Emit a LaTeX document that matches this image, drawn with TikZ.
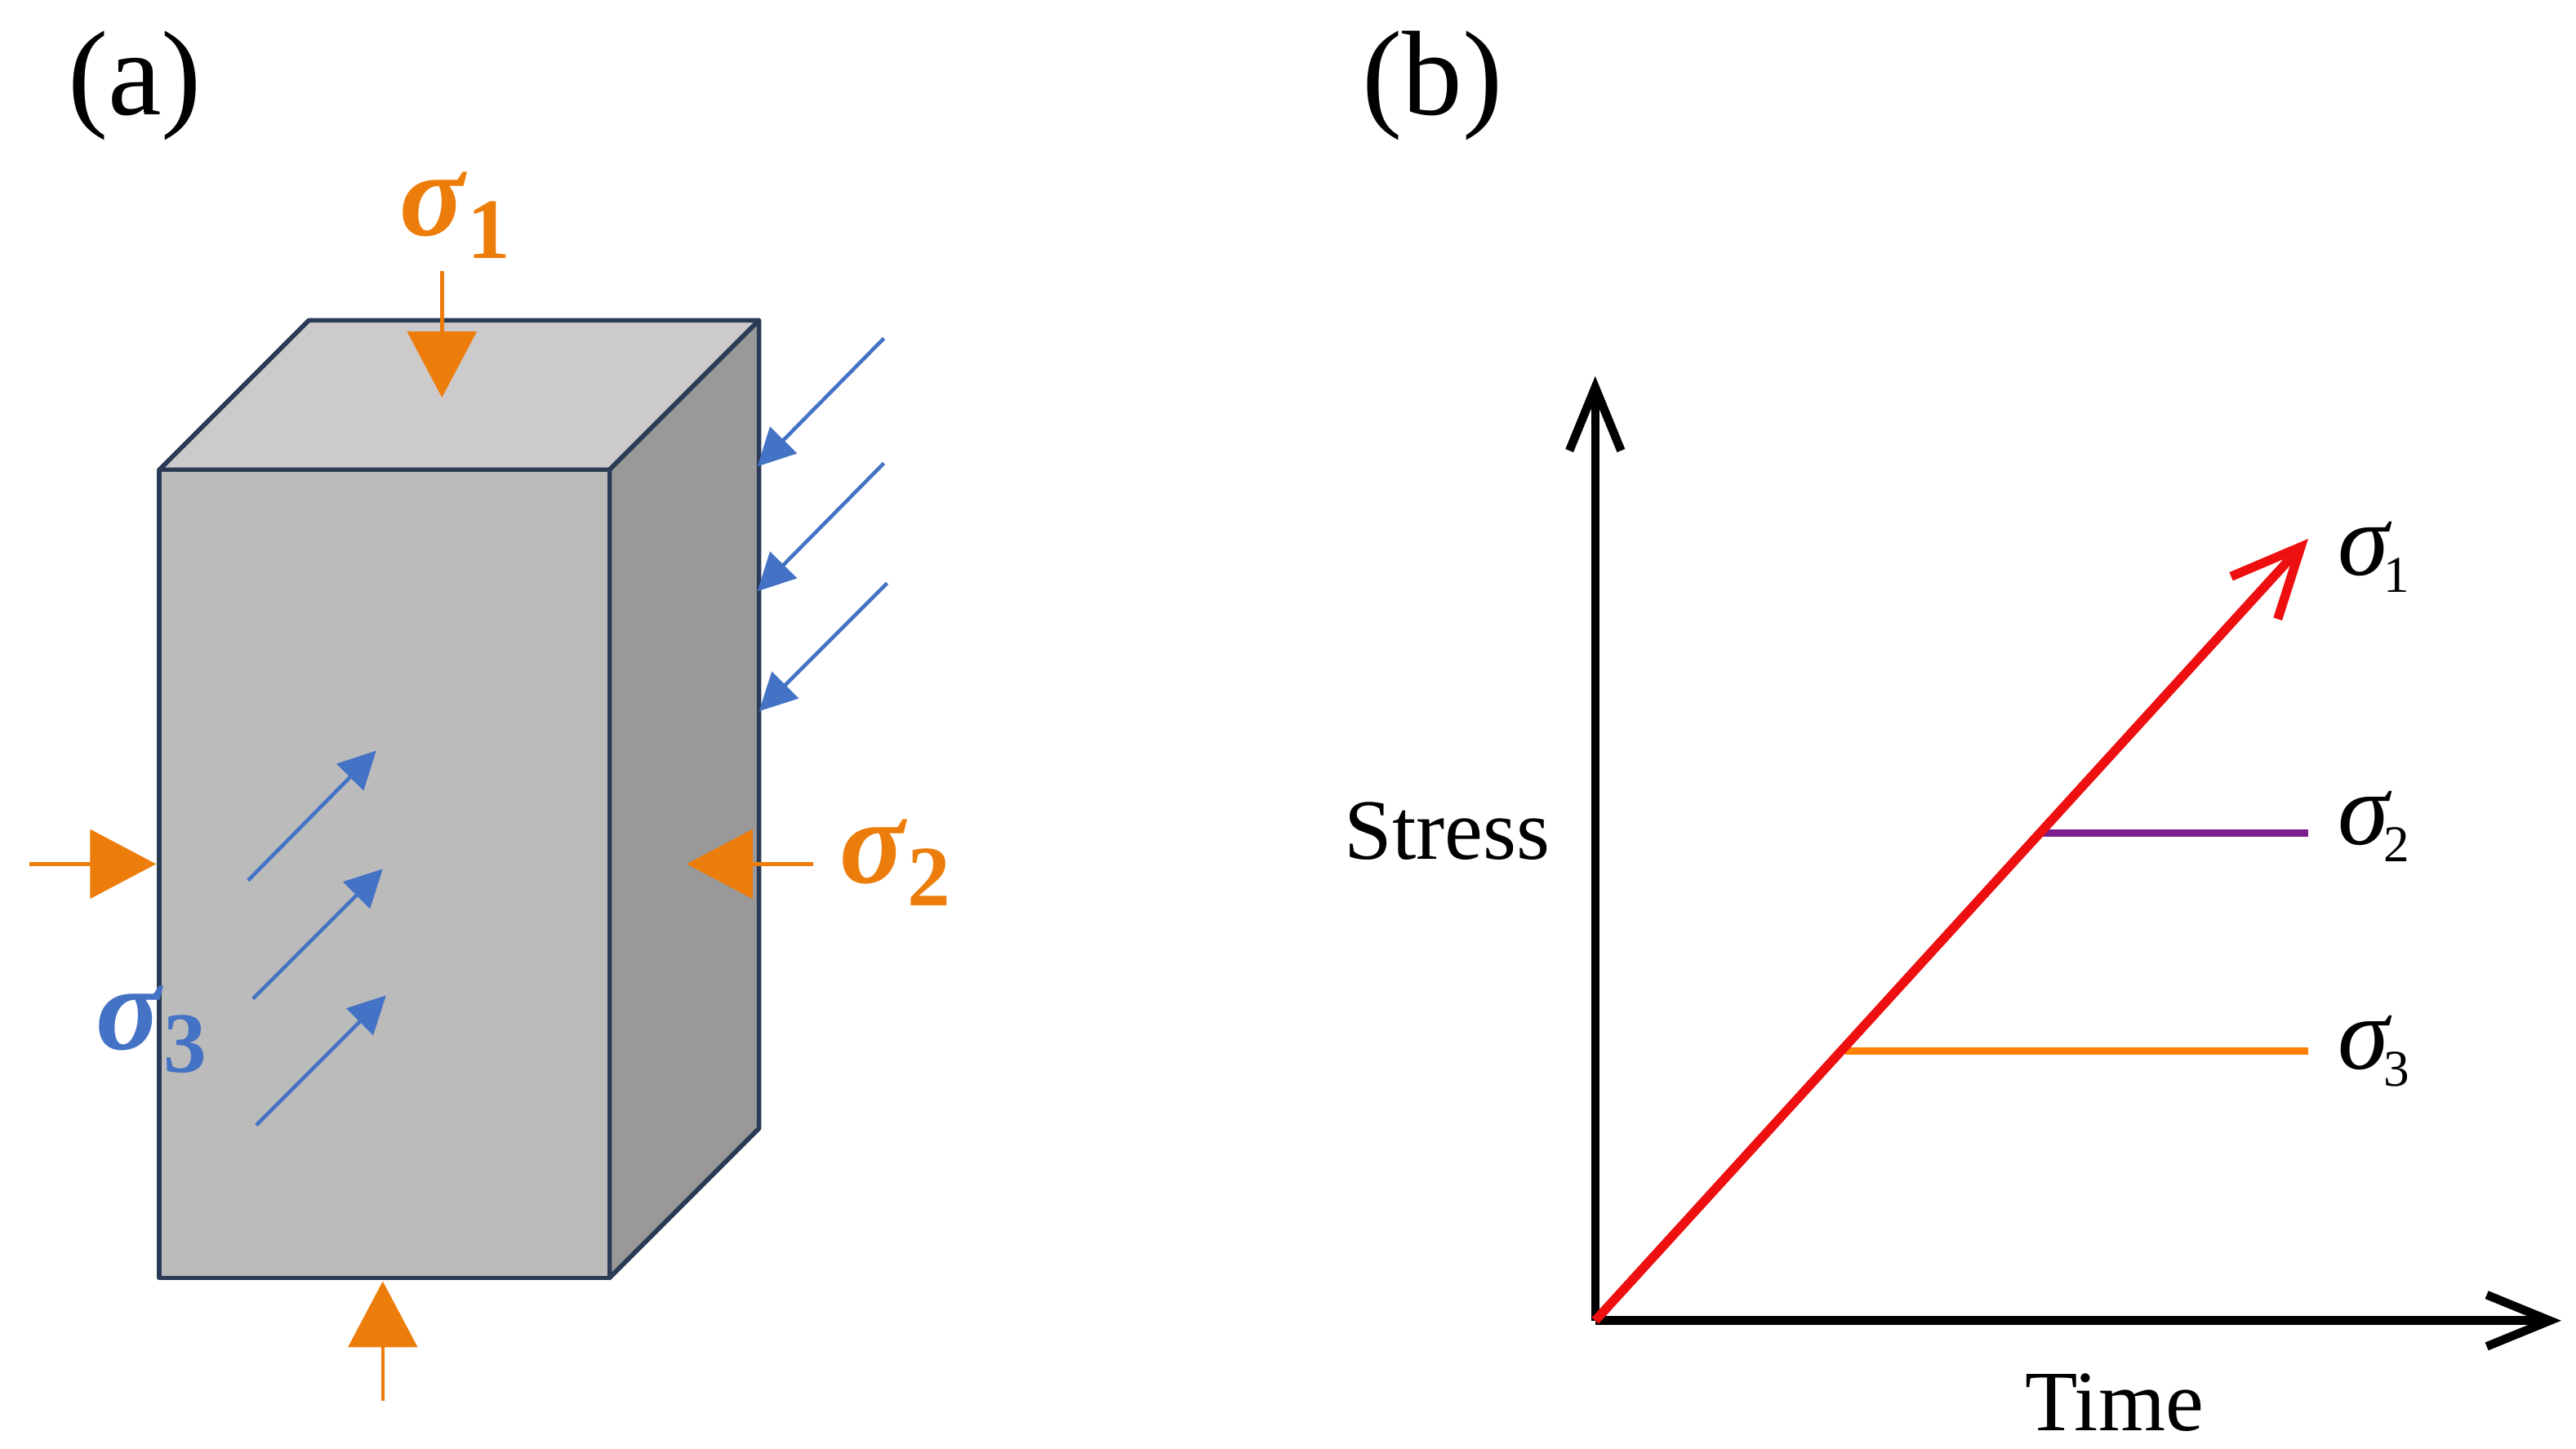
\documentclass[tikz,border=0pt]{standalone}
\usepackage{fontspec}
\setmainfont{Liberation Serif}
\usetikzlibrary{arrows.meta}
\definecolor{edgecol}{HTML}{2B3A55}
\definecolor{frontcol}{HTML}{BBBBBB}
\definecolor{topcol}{HTML}{CCCACA}
\definecolor{sidecol}{HTML}{999999}
\definecolor{loadorange}{HTML}{ED7D0A}
\definecolor{loadblue}{HTML}{4472C4}
\definecolor{curvered}{HTML}{EE1010}
\definecolor{curvepurple}{HTML}{7B1F8F}
\definecolor{curveorange}{HTML}{FF8000}
\newcommand{\fatsig}[1]{{\fontsize{42}{44}\selectfont\bfseries\itshape σ\kern1pt\raisebox{-8pt}{\fontsize{30}{32}\selectfont\upshape #1}}}
\newcommand{\thinsig}[1]{{\fontsize{36}{38}\selectfont\itshape σ\kern-2pt\raisebox{-6pt}{\fontsize{18}{20}\selectfont\upshape #1}}}
\tikzset{
  x=0.02012cm, y=-0.02012cm,
  face/.style={draw=edgecol, line width=1.6pt, line join=round},
  bigload/.style={draw=loadorange, line width=1.3pt, -{Triangle[length=23pt,width=24pt,fill=loadorange]}},
  smallload/.style={draw=loadblue, line width=1.3pt, -{Triangle[length=13pt,width=13pt,fill=loadblue]}},
  axisline/.style={draw=black, line width=3pt, -{Straight Barb[length=22pt,width=18pt,line width=3pt]}},
  redline/.style={draw=curvered, line width=3.2pt, -{Straight Barb[length=24pt,width=22pt,line width=3.2pt]}},
  panel/.style={inner sep=0pt, font=\fontsize{42}{44}\selectfont},
  axlabel/.style={inner sep=0pt, font=\fontsize{30}{32}\selectfont},
  siglabel/.style={inner sep=0pt, anchor=west},
}
\begin{document}
\begin{tikzpicture}
\useasboundingbox (0,0) rectangle (1568,881.7);
% block
\coordinate (fTL) at (97,286); \coordinate (fTR) at (371,286);
\coordinate (fBL) at (97,778); \coordinate (fBR) at (371,778);
\coordinate (bTL) at (188,195); \coordinate (bTR) at (462,195);
\coordinate (bBR) at (462,687);
\draw[face, fill=topcol] (fTL) -- (bTL) -- (bTR) -- (fTR) -- cycle;
\draw[face, fill=sidecol] (fTR) -- (bTR) -- (bBR) -- (fBR) -- cycle;
\draw[face, fill=frontcol] (fTL) -- (fTR) -- (fBR) -- (fBL) -- cycle;
% panel labels
\node[panel] (pa) at (82,52) {(a)};
\node[panel] (pb) at (872,52) {(b)};
% orange loads
\coordinate (t0) at (269,165); \coordinate (t1) at (269,242);
\coordinate (b0) at (233,853); \coordinate (b1) at (233,780);
\coordinate (l0) at (18,526); \coordinate (l1) at (95,526);
\coordinate (r0) at (495,526); \coordinate (r1) at (418,526);
\draw[bigload] (t0) -- (t1);
\draw[bigload] (b0) -- (b1);
\draw[bigload] (l0) -- (l1);
\draw[bigload] (r0) -- (r1);
% blue loads
\coordinate (a0) at (538,206); \coordinate (a1) at (461,284);
\coordinate (c0) at (538,282); \coordinate (c1) at (461,360);
\coordinate (d0) at (540,355); \coordinate (d1) at (462,433);
\coordinate (e0) at (151,536); \coordinate (e1) at (229,457);
\coordinate (f0) at (154,608); \coordinate (f1) at (233,529);
\coordinate (g0) at (156,685); \coordinate (g1) at (235,606);
\foreach \s/\e in {a0/a1,c0/c1,d0/d1,e0/e1,f0/f1,g0/g1}
  \draw[smallload] (\s) -- (\e);
% load labels
\node[inner sep=0pt, text=loadorange] (s1) at (277,131) {\fatsig{1}};
\node[inner sep=0pt, text=loadorange] (s2) at (545,525) {\fatsig{2}};
\node[inner sep=0pt, text=loadblue] (s3) at (92,627) {\fatsig{3}};
% graph
\coordinate (O) at (971,804);
\coordinate (yend) at (971,229);
\coordinate (xend) at (1559,804);
\coordinate (redend) at (1405,328);
\coordinate (p2) at (1243,507); \coordinate (p2e) at (1405,507);
\coordinate (p3) at (1123,640); \coordinate (p3e) at (1405,640);
\draw[axisline] (O) -- (yend);
\draw[axisline] (O) -- (xend);
\draw[draw=curvepurple, line width=2.6pt] (p2) -- (p2e);
\draw[draw=curveorange, line width=2.6pt] (p3) -- (p3e);
\draw[redline] (O) -- (redend);
\node[siglabel] (l1n) at (1423,339) {\thinsig{1}};
\node[siglabel] (l2n) at (1423,503) {\thinsig{2}};
\node[siglabel] (l3n) at (1423,640) {\thinsig{3}};
\node[axlabel] (stress) at (881,506) {Stress};
\node[axlabel] (time) at (1287,854) {Time};
\end{tikzpicture}
\end{document}
